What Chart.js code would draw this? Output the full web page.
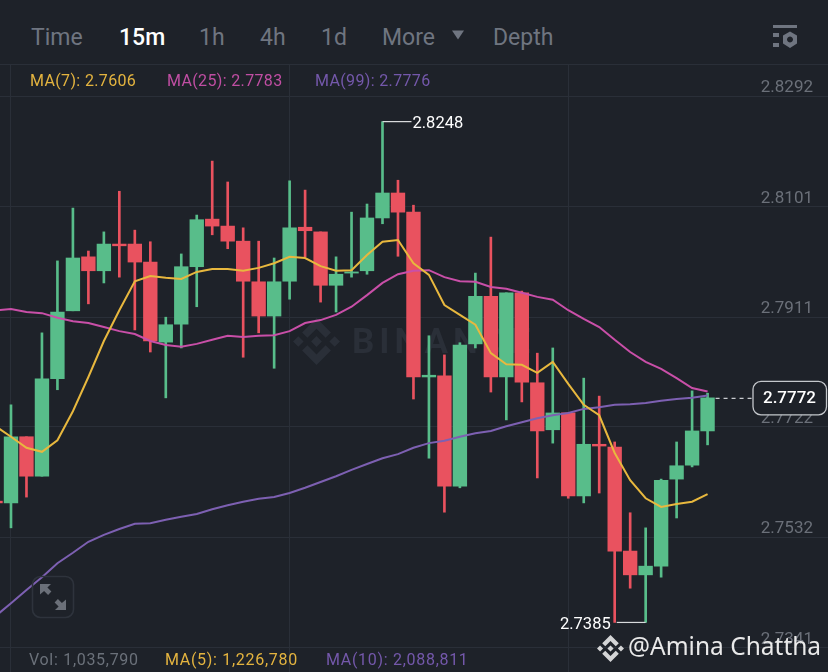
<!DOCTYPE html>
<html><head><meta charset="utf-8">
<script src="https://cdn.jsdelivr.net/npm/chart.js@4"></script>
<style>
html,body{margin:0;padding:0;background:#1e2229;width:828px;height:672px;overflow:hidden}
#wrap{position:relative;width:828px;height:672px;font-family:Roboto,sans-serif}
#c{position:absolute;left:0;top:64px;display:block}
.t{position:absolute;white-space:nowrap;line-height:1}
.tab{font-size:23px;color:#6f7580;top:26px}
.lg{font-size:16px;top:73px;letter-spacing:.35px}
.ft{font-size:16px;top:652px;letter-spacing:.7px}
#hdr{position:absolute;left:0;top:0;width:828px;height:65px;border-bottom:1px solid #2a2f38;box-sizing:border-box}
svg{position:absolute}
</style></head><body>
<div id="wrap">
<div id="hdr"></div>
<canvas id="c" width="828" height="608"></canvas>
<div class="t tab" style="left:31px">Time</div>
<div class="t tab" style="left:119px;color:#fff;font-weight:500">15m</div>
<div class="t tab" style="left:199px">1h</div>
<div class="t tab" style="left:260px">4h</div>
<div class="t tab" style="left:321px">1d</div>
<div class="t tab" style="left:382px">More</div>
<div class="t tab" style="left:493px">Depth</div>
<svg style="left:450px;top:29px" width="16" height="12"><path d="M2 1.5H14L8 10.5Z" fill="#6f7580"/></svg>
<svg style="left:770px;top:22px" width="30" height="30"><g fill="#6f7580"><rect x="3" y="3" width="24" height="3"/><rect x="3" y="11" width="6" height="4"/><rect x="3" y="21" width="6" height="4"/><path fill-rule="evenodd" d="M20 9.5l7 4v8l-7 4.5-7-4.5v-8zM20 14.5a3 3 0 1 0 .01 0z"/></g></svg>
<div class="t lg" style="left:30px;color:#e4b43f">MA(7): 2.7606</div>
<div class="t lg" style="left:167px;color:#c04ea3">MA(25): 2.7783</div>
<div class="t lg" style="left:315px;color:#7458ab">MA(99): 2.7776</div>
<div class="t ft" style="left:29px;color:#6b717a">Vol: 1,035,790</div>
<div class="t ft" style="left:165px;color:#e4b43f">MA(5): 1,226,780</div>
<div class="t ft" style="left:326px;color:#7458ab">MA(10): 2,088,811</div>
<svg style="left:31px;top:575px" width="44" height="44"><rect x="1.5" y="1.5" width="41" height="41" rx="8" fill="none" stroke="#2e333c" stroke-width="1.6"/><g fill="#6b7079"><path d="M9 9h11l-3.6 3.6 4 4-3.3 3.3-4-4L9 19.6z"/><path d="M35 35H24l3.6-3.6-4-4 3.3-3.3 4 4L35 24.4z"/></g></svg>
<svg style="left:597px;top:635px" width="27" height="27" viewBox="0 0 126.6 126.6"><path fill="#d4d5d6" d="M38.73 53.2l24.59-24.58 24.6 24.6 14.3-14.31L63.32 0 24.42 38.9l14.31 14.3zM0 63.31l14.3-14.31 14.31 14.31-14.31 14.3zM38.73 73.41l24.59 24.59 24.6-24.6 14.31 14.29-38.9 38.91-38.91-38.88-.02-.02zM97.99 63.31l14.3-14.3 14.32 14.3-14.31 14.32zM77.83 63.3L63.32 48.78 52.59 59.51l-1.24 1.23-2.54 2.54 14.51 14.5 14.51-14.47z"/></svg>
<div class="t" style="left:628px;top:634px;font-family:'Noto Sans',sans-serif;font-size:24.5px;color:#e9e9e9">@Amina Chattha</div>
</div>
<script>
const candles=[0,1,2,3,4,5,6,7,8,9,10,11,12,13,14,15,16,17,18,19,20,21,22,23,24,25,26,27,28,29,30,31,32,33,34,35,36,37,38,39,40,41,42,43,44,45,46];
const opens=[2.7594,2.7591,2.7705,2.7637,2.7805,2.7922,2.8015,2.7991,2.8037,2.8037,2.8006,2.7868,2.7899,2.7998,2.8080,2.8068,2.8042,2.7972,2.7913,2.7973,2.8066,2.8058,2.7966,2.7987,2.7991,2.8082,2.8125,2.8092,2.7808,2.7810,2.7620,2.7865,2.7947,2.7808,2.7953,2.7798,2.7717,2.7746,2.7603,2.7692,2.7687,2.7508,2.7467,2.7482,2.7632,2.7656,2.7715];
const closes=[2.7591,2.7705,2.7637,2.7805,2.7920,2.8013,2.7991,2.8037,2.8034,2.8006,2.7870,2.7898,2.7998,2.8079,2.8068,2.8042,2.7973,2.7913,2.7972,2.8065,2.8060,2.7966,2.7985,2.7989,2.8082,2.8125,2.8092,2.7808,2.7811,2.7620,2.7863,2.7947,2.7808,2.7953,2.7799,2.7715,2.7746,2.7603,2.7692,2.7689,2.7508,2.7467,2.7482,2.7630,2.7655,2.7715,2.7772];
const highs=[2.7594,2.7760,2.7705,2.7884,2.8008,2.8099,2.8025,2.8058,2.8128,2.8061,2.8041,2.7911,2.8020,2.8087,2.8180,2.8144,2.8065,2.8042,2.8013,2.8146,2.8130,2.8058,2.8015,2.8092,2.8106,2.8248,2.8147,2.8104,2.7879,2.7846,2.7867,2.7987,2.8049,2.7953,2.7956,2.7849,2.7858,2.7746,2.7806,2.7775,2.7696,2.7574,2.7548,2.7632,2.7696,2.7784,2.7780];
const lows=[2.7591,2.7548,2.7601,2.7637,2.7786,2.7922,2.7934,2.7970,2.7980,2.7889,2.7851,2.7772,2.7858,2.7929,2.8053,2.8029,2.7842,2.7884,2.7823,2.7942,2.8015,2.7937,2.7920,2.7980,2.7985,2.8072,2.8016,2.7770,2.7668,2.7575,2.7617,2.7858,2.7782,2.7734,2.7765,2.7634,2.7694,2.7599,2.7591,2.7608,2.7385,2.7444,2.7385,2.7463,2.7565,2.7653,2.7691];
const ma7=[2.7723,2.7705,2.7686,2.7679,2.7699,2.7749,2.7808,2.7870,2.7923,2.7973,2.7982,2.7979,2.7977,2.7989,2.7994,2.7994,2.7991,2.7996,2.8004,2.8015,2.8013,2.7999,2.7991,2.7992,2.8018,2.8041,2.8044,2.8004,2.7984,2.7932,2.7915,2.7898,2.7849,2.7830,2.7829,2.7815,2.7834,2.7796,2.7760,2.7742,2.7677,2.7630,2.7599,2.7584,2.7589,2.7593,2.7606];
const ma25=[2.7923,2.7925,2.7920,2.7918,2.7910,2.7904,2.7901,2.7894,2.7887,2.7882,2.7870,2.7863,2.7860,2.7865,2.7872,2.7879,2.7877,2.7879,2.7880,2.7887,2.7901,2.7906,2.7915,2.7929,2.7949,2.7970,2.7985,2.7991,2.7992,2.7980,2.7973,2.7972,2.7963,2.7960,2.7953,2.7946,2.7941,2.7923,2.7908,2.7894,2.7872,2.7851,2.7834,2.7822,2.7806,2.7789,2.7783];
const ma99=[2.7396,2.7418,2.7441,2.7463,2.7487,2.7505,2.7524,2.7536,2.7546,2.7555,2.7556,2.7562,2.7567,2.7572,2.7580,2.7587,2.7593,2.7598,2.7601,2.7608,2.7617,2.7627,2.7637,2.7648,2.7658,2.7668,2.7675,2.7686,2.7694,2.7698,2.7705,2.7711,2.7715,2.7723,2.7730,2.7737,2.7742,2.7746,2.7753,2.7756,2.7760,2.7761,2.7763,2.7767,2.7770,2.7772,2.7776];
const priceTicks=[2.8292,2.8101,2.7911,2.7722,2.7532,2.7341];
const gridCandles=[1,19,37];
const highLabel="2.8248", lowLabel="2.7385", lastLabel="2.7772";
const GREEN='#58bd8a',RED='#e9525f';
const colors=closes.map((v,i)=>v>opens[i]?GREEN:RED);
const logoPath=new Path2D("M38.73 53.2l24.59-24.58 24.6 24.6 14.3-14.31L63.32 0 24.42 38.9l14.31 14.3zM0 63.31l14.3-14.31 14.31 14.31-14.31 14.3zM38.73 73.41l24.59 24.59 24.6-24.6 14.31 14.29-38.9 38.91-38.91-38.88-.02-.02zM97.99 63.31l14.3-14.3 14.32 14.3-14.31 14.32zM77.83 63.3L63.32 48.78 52.59 59.51l-1.24 1.23-2.54 2.54 14.51 14.5 14.51-14.47z");
const overlay={id:'overlay',
 beforeDatasetsDraw(ch){const c=ch.ctx;c.save();
  c.translate(293,254);c.scale(47/126.6,47/126.6);c.fillStyle='#2a2f38';c.fill(logoPath);c.restore();
  c.save();c.fillStyle='#2a2f38';c.font='bold 35px Roboto';c.letterSpacing='5px';c.textBaseline='alphabetic';c.fillText('BINANCE',352,289);c.restore();},
 afterDatasetsDraw(ch){const c=ch.ctx,X=ch.scales.x,Y=ch.scales.y;c.save();
  const hiX=X.getPixelForValue(25),hiY=Y.getPixelForValue(parseFloat(highLabel));
  c.strokeStyle='#d8dadc';c.lineWidth=1.2;c.beginPath();c.moveTo(hiX,hiY);c.lineTo(hiX+29,hiY);c.stroke();
  c.fillStyle='#ffffff';c.font='16.5px Roboto';c.textBaseline='middle';c.textAlign='left';c.fillText(highLabel,hiX+30,hiY+2);
  const l0=X.getPixelForValue(40),l1=X.getPixelForValue(42),loY=Y.getPixelForValue(parseFloat(lowLabel));
  c.beginPath();c.moveTo(l0+2,loY);c.lineTo(l1,loY);c.stroke();
  c.textAlign='right';c.fillText(lowLabel,l0-4,loY+2);
  const lastX=X.getPixelForValue(46),lastY=Y.getPixelForValue(parseFloat(lastLabel));
  c.setLineDash([4,4]);c.strokeStyle='#c9ccd0';c.beginPath();c.moveTo(lastX+8,lastY+.5);c.lineTo(752,lastY+.5);c.stroke();c.setLineDash([]);
  c.fillStyle='#1e2229';c.strokeStyle='#c4c7cb';c.lineWidth=1.3;c.beginPath();c.roundRect(753,lastY-16.5,73.5,33.5,8);c.fill();c.stroke();
  c.fillStyle='#ffffff';c.font='500 17px Roboto';c.textAlign='center';c.fillText(lastLabel,789.5,lastY+1);
  c.restore();}};
const noInset=s=>{s.paddingTop=0;s.paddingBottom=0;s.paddingLeft=0;s.paddingRight=0;};
new Chart(document.getElementById('c'),{
 type:'bar',
 data:{datasets:[
  {type:'line',label:'MA(7)',data:candles.map((k,i)=>({x:k,y:ma7[i]})),borderColor:'#e8b83e',borderWidth:2,pointRadius:0,tension:0,order:1},
  {type:'line',label:'MA(25)',data:candles.map((k,i)=>({x:k,y:ma25[i]})),borderColor:'#c94fa8',borderWidth:2,pointRadius:0,tension:0,order:2},
  {type:'line',label:'MA(99)',data:candles.map((k,i)=>({x:k,y:ma99[i]})),borderColor:'#7d60b2',borderWidth:2,pointRadius:0,tension:0,order:3},
  {label:'Body',data:candles.map((k,i)=>({x:k,y:[opens[i],closes[i]]})),backgroundColor:colors,barThickness:13.7,borderWidth:0,order:4},
  {label:'Wick',data:candles.map((k,i)=>({x:k,y:[lows[i],highs[i]]})),backgroundColor:colors,barThickness:2,borderWidth:0,order:5}
 ]},
 options:{responsive:false,animation:false,devicePixelRatio:1,
  layout:{padding:0},
  datasets:{bar:{grouped:false}},
  plugins:{legend:{display:false},tooltip:{enabled:false}},
  scales:{
   x:{type:'linear',min:0.29,max:53.78,offset:false,
      afterBuildTicks(a){a.ticks=gridCandles.map(v=>({value:v}));},
      afterFit(s){noInset(s);s.height=0;},
      ticks:{display:false},border:{display:false},grid:{color:'#2a2f38',lineWidth:1,drawTicks:false,offset:false}},
   y:{type:'linear',position:'right',min:2.72996,max:2.83473,
      afterBuildTicks(a){a.ticks=priceTicks.map(v=>({value:v}));},
      afterFit(s){noInset(s);s.width=0;},
      ticks:{mirror:true,padding:-15,labelOffset:-8,color:'#6b7079',font:{family:'Roboto',size:17},callback:v=>v.toFixed(4)},
      border:{display:false},grid:{color:'#2a2f38',lineWidth:1,drawTicks:false}}
  }},
 plugins:[overlay]
});
</script>
</body></html>
